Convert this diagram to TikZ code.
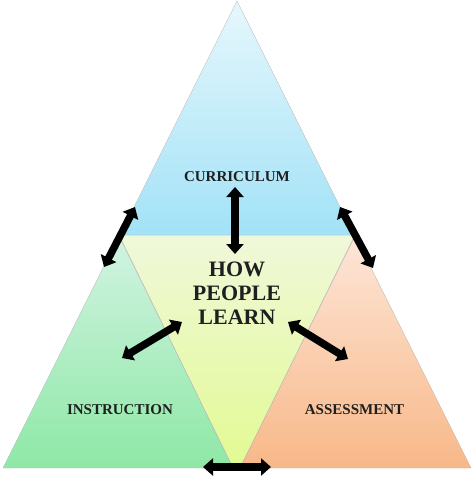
\documentclass[tikz,border=0pt]{standalone}
\usepackage{fontspec}
\setmainfont{Liberation Serif}
\usetikzlibrary{arrows.meta}

\definecolor{currtop}{HTML}{E6F7FC}
\definecolor{currbot}{HTML}{A2E2F7}
\definecolor{hpltop}{HTML}{F0F8DA}
\definecolor{hplbot}{HTML}{E2FA92}
\definecolor{instrtop}{HTML}{D2F3E2}
\definecolor{instrbot}{HTML}{8EE8A6}
\definecolor{assesstop}{HTML}{FDE6D8}
\definecolor{assessbot}{HTML}{F8B888}

\begin{document}
\begin{tikzpicture}[x=1pt, y=-1pt,
    twoway/.style={line width=7.5pt, {Triangle[width=17pt,length=10pt]}-{Triangle[width=17pt,length=10pt]}},
    corner/.style={font=\bfseries\fontsize{15}{17}\selectfont, text=black!88},
    centre/.style={font=\bfseries\fontsize{22}{24}\selectfont, text=black!88, align=center}]
    \useasboundingbox (0,0) rectangle (474,477);
    % middle, left, right, top
    \shade[top color=hpltop, bottom color=hplbot, draw=gray!55, thin] (119,235) -- (355,235) -- (240,468) -- (233,468) -- cycle;
    \shade[top color=instrtop, bottom color=instrbot, draw=gray!55, thin] (119,236) -- (233,468) -- (3,468) -- cycle;
    \shade[top color=assesstop, bottom color=assessbot, draw=gray!55, thin] (355,236) -- (471,468) -- (240,468) -- cycle;
    \shade[top color=currtop, bottom color=currbot, draw=gray!55, thin] (237,1) -- (354,235) -- (120,235) -- cycle;

    \node[corner] (curr) at (237,177) {CURRICULUM};
    \node[centre] (hpl) at (237,293) {HOW\\PEOPLE\\LEARN};
    \node[corner] (instr) at (120,410) {INSTRUCTION};
    \node[corner] (assess) at (354.5,410) {ASSESSMENT};

    \coordinate (cu) at (235,187);
    \coordinate (cd) at (235,254);
    \coordinate (lu) at (135,207);
    \coordinate (ld) at (104,267);
    \coordinate (ru) at (340,207);
    \coordinate (rd) at (373,268);
    \coordinate (ih) at (182,322);
    \coordinate (il) at (122,358);
    \coordinate (ah) at (288,322);
    \coordinate (al) at (348,359);
    \coordinate (bl) at (203,467);
    \coordinate (br) at (271,467);

    \draw[twoway] (cu) -- (cd);
    \draw[twoway] (lu) -- (ld);
    \draw[twoway] (ru) -- (rd);
    \draw[twoway] (ih) -- (il);
    \draw[twoway] (ah) -- (al);
    \draw[twoway] (bl) -- (br);
\end{tikzpicture}
\end{document}
